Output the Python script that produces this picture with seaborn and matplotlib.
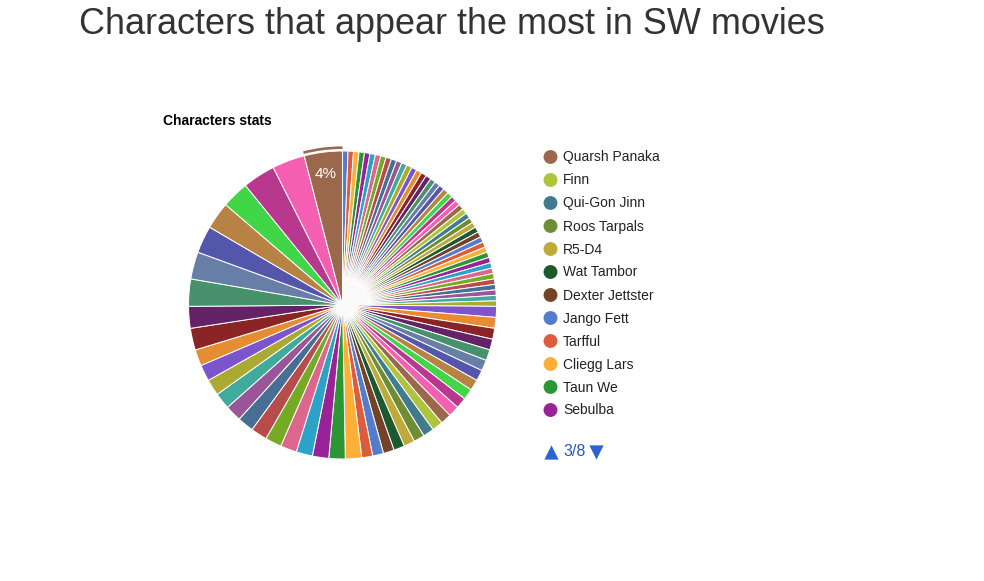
import matplotlib
matplotlib.use('Agg')
import matplotlib.pyplot as plt
import matplotlib.colors as mcolors
from matplotlib.patches import Wedge
import numpy as np
import seaborn as sns

# Personagens na ordem do gráfico (ordem crescente de filmes)
names = [
    'Biggs Darklighter', 'Greedo', 'Jek Tono Porkins', 'IG-88', 'Bossk', 'Lobot',
    'Mon Mothma', 'Arvel Crynyd', 'Wicket Systri Warrick', 'Finis Valorum', 'Rugor Nass',
    'Ric Olié', 'Darth Maul', 'Bib Fortuna', 'Ratts Tyerell', 'Dud Bolt', 'Gasgano',
    'Ben Quadinaros', 'Yarael Poof', 'Cordé', 'Barriss Offee', 'Dormé', 'Zam Wesell',
    'Lama Su',
    'Quarsh Panaka', 'Finn', 'Qui-Gon Jinn', 'Roos Tarpals', 'R5-D4', 'Wat Tambor',
    'Dexter Jettster', 'Jango Fett', 'Tarfful', 'Cliegg Lars', 'Taun We', 'Sebulba',
    'Jocasta Nu', 'San Hill', 'Grievous', 'Tion Medon', 'Rey', 'Poe Dameron', 'BB8',
    'Captain Phasma',
    'Wilhuff Tarkin', 'Lando Calrissian', 'Ackbar', 'Nien Nunb', 'Jar Jar Binks', 'Watto',
    'Shmi Skywalker', 'Eeth Koth', 'Adi Gallia', 'Saesee Tiin', 'Mas Amedda',
    'Poggle the Lesser', 'Luminara Unduli', 'Dooku', 'Bail Prestor Organa', 'R4-P17',
    'Shaak Ti', 'Raymus Antilles', 'Sly Moore', 'Gregar Typho',
    'Owen Lars', 'Beru Whitesun lars', 'Anakin Skywalker', 'Jabba Desilijic Tiure',
    'Wedge Antilles', 'Boba Fett', 'Nute Gunray', 'Padmé Amidala', 'Aayla Secura',
    'Mace Windu', 'Ki-Adi-Mundi', 'Kit Fisto', 'Plo Koon',
    'Darth Vader', 'Han Solo',
    'Luke Skywalker', 'Leia Organa', 'Chewbacca', 'Yoda', 'Palpatine',
    'C-3PO', 'Obi-Wan Kenobi',
    'R2-D2',
]

films = [
    1, 1, 1, 1, 1, 1, 1, 1, 1, 1, 1, 1, 1, 1, 1, 1, 1, 1, 1, 1, 1, 1, 1, 1,
    1, 1, 1, 1, 1, 1, 1, 1, 1, 1, 1, 1,
    1, 1, 1, 1, 1, 1, 1, 1,
    2, 2, 2, 2, 2, 2, 2, 2, 2, 2, 2, 2, 2, 2, 2, 2, 2, 2, 2, 2,
    3, 3, 3, 3, 3, 3, 3, 3, 3, 3, 3, 3, 3,
    4, 4,
    5, 5, 5, 5, 5,
    6, 6,
    7,
]

# paleta padrão do Google Charts
google_colors = ['#3366cc', '#dc3912', '#ff9900', '#109618', '#990099', '#0099c6',
                 '#dd4477', '#66aa00', '#b82e2e', '#316395', '#994499', '#22aa99',
                 '#aaaa11', '#6633cc', '#e67300', '#8b0707', '#651067', '#329262',
                 '#5574a6', '#3b3eac', '#b77322', '#16d620', '#b91383', '#f4359e',
                 '#9c5935', '#a9c413', '#2a778d', '#668d1c', '#bea413', '#0c5922',
                 '#743411']

legend_page = 3
legend_pages = 8
page_size = 12

title = 'Characters that appear the most in SW movies'
subtitle = 'Characters stats'

sns.set_theme(style='white')
plt.rcParams['font.family'] = ['Liberation Sans', 'DejaVu Sans']


def suavizar(hexcor, fator=0.78):
    # a captura original tem as cores um pouco menos saturadas
    hsv = mcolors.rgb_to_hsv(np.array(mcolors.to_rgb(hexcor)))
    hsv[1] *= fator
    return tuple(mcolors.hsv_to_rgb(hsv))


paleta = sns.color_palette([suavizar(c) for c in google_colors])
cores = [paleta[i % len(paleta)] for i in range(len(films))]

fig = plt.figure(figsize=(9.84, 5.81), dpi=100)
fig.patch.set_facecolor('white')

# eixo de fundo em pixels para títulos e legenda
bg = fig.add_axes([0, 0, 1, 1])
bg.set_xlim(0, 984)
bg.set_ylim(581, 0)
bg.axis('off')

bg.text(79, 25, title, fontsize=25.9, color='#333333', va='center', ha='left')
bg.text(163, 121, subtitle, fontsize=10, fontweight='bold', color='#000000',
        va='center', ha='left')

# pizza
ax = fig.add_axes([0.1916, 0.2100, 0.3130, 0.5301])
wedges, texts, autotexts = ax.pie(
    films, colors=cores, startangle=90, counterclock=False,
    wedgeprops=dict(edgecolor='white', linewidth=0.7),
    autopct=lambda p: f'{p:.0f}%' if p > 3.8 else '',
    pctdistance=0.86,
    textprops=dict(color='white', fontsize=11))
ax.set_xlim(-1, 1)
ax.set_ylim(-1, 1)
ax.set_aspect('equal')
ax.axis('off')

# fatia selecionada (arco externo)
sel = wedges[-1]
ax.add_patch(Wedge((0, 0), 1.03, sel.theta1, sel.theta2, width=0.017,
                   facecolor=sel.get_facecolor(), edgecolor='none', clip_on=False))

# legenda paginada
inicio = (legend_page - 1) * page_size
itens = list(range(inicio, min(inicio + page_size, len(names))))
ys = [157 + 23 * k for k in range(len(itens))]
bg.scatter([550.5] * len(itens), ys, s=100, c=[cores[i] for i in itens], linewidths=0)
for y, i in zip(ys, itens):
    bg.text(563, y + 0.5, names[i], fontsize=10, color='#222222', va='center', ha='left')

py = 451.5
bg.scatter([550.7], [py], marker='^', s=105, c='#2d62d0', linewidths=0)
bg.scatter([596], [py], marker='v', s=105, c='#2d62d0', linewidths=0)
bg.text(563, py + 0.5, f'{legend_page}/{legend_pages}', fontsize=11.5, color='#2255cc',
        va='center', ha='left')

fig.savefig('out.png', dpi=100, facecolor='white')
plt.close(fig)
